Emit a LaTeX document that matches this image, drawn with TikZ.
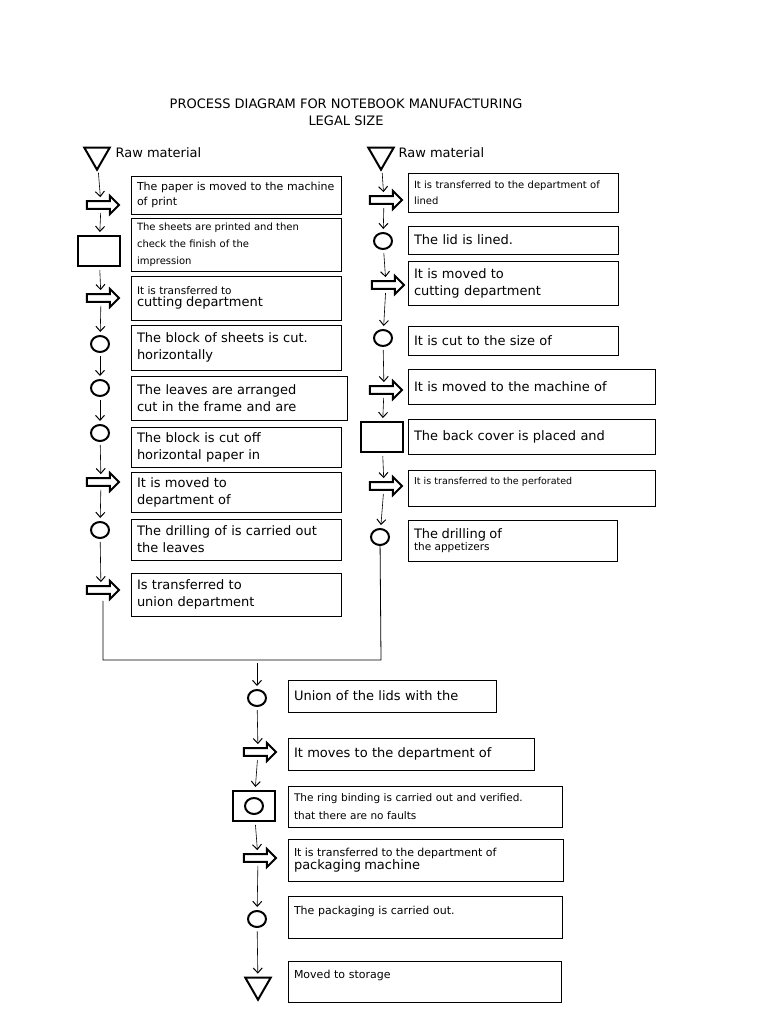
\documentclass[tikz,border=0pt]{standalone}
\usepackage{fontspec}
\setmainfont{DejaVu Sans}
\usetikzlibrary{shapes.geometric,shapes.arrows,arrows.meta}
\begin{document}
\begin{tikzpicture}[x=1pt,y=-1pt,
  box/.style={draw,line width=0.8pt,inner sep=5pt,align=left},
  big/.style={font=\fontsize{13}{17}\selectfont},
  sm/.style={font=\fontsize{10.5}{16}\selectfont},
  mv/.style={single arrow,draw,line width=2pt,minimum height=32,minimum width=18,single arrow head extend=4pt,inner sep=2pt,anchor=center},
  op/.style={ellipse,draw,line width=2pt,minimum width=18,minimum height=16,inner sep=0pt},
  ins/.style={rectangle,draw,line width=2pt,minimum width=42,minimum height=30,inner sep=0pt},
  st/.style={isosceles triangle,shape border rotate=270,isosceles triangle apex angle=60,draw,line width=2pt,minimum height=22,inner sep=0pt},
  conn/.style={line width=0.6pt,-{Straight Barb[length=5pt,width=9pt,line width=1pt]},shorten >=3pt,shorten <=3pt},
  lnk/.style={line width=0.8pt}]
\useasboundingbox (0,0) rectangle (768,1024);
\newcommand{\bx}[6]{\node[box,minimum width=#4-#2,minimum height=#5-#3,text width=#4-#2-12,#6] at ({(#2+#4)/2},{(#3+#5)/2}) (#1)}
% title
\node[font=\fontsize{13}{17}\selectfont,align=center] (title) at (346,112) {PROCESS DIAGRAM FOR NOTEBOOK MANUFACTURING\\LEGAL SIZE};
% left column
\node[st] (L0) at (97,155) {};
\node[big,anchor=west] (L0t) at (112,153) {Raw material};
\node[mv] (L1) at (101,205) {};
\bx{B1}{131}{176}{341}{214}{sm,font=\fontsize{11}{15}\selectfont}{The paper is moved to the machine of print};
\node[ins] (L2) at (99,251) {};
\bx{B2}{131}{220}{341}{270}{font=\fontsize{10}{17}\selectfont}{The sheets are printed and then\\check the finish of the\\impression};
\node[mv] (L3) at (101,298) {};
\bx{B3}{131}{276}{341}{320}{}{{\fontsize{10.5}{13}\selectfont It is transferred to}\\{\fontsize{13}{17}\selectfont cutting department}};
\node[op] (L4) at (100,344) {};
\bx{B4}{131}{325}{341}{370}{big}{The block of sheets is cut.\\horizontally};
\node[op] (L5) at (100,388) {};
\bx{B5}{131}{376}{347}{420}{big}{The leaves are arranged\\cut in the frame and are};
\node[op] (L6) at (100,433) {};
\bx{B6}{131}{427}{341}{467}{big}{The block is cut off\\horizontal paper in};
\node[mv] (L7) at (101,482) {};
\bx{B7}{131}{472}{341}{512}{big}{It is moved to\\department of};
\node[op] (L8) at (100,530) {};
\bx{B8}{131}{519}{341}{560}{big}{The drilling of is carried out\\the leaves};
\node[mv] (L9) at (101,590) {};
\bx{B9}{131}{573}{341}{616}{big}{Is transferred to\\union department};
% right column
\node[st] (R0) at (381,155) {};
\node[big,anchor=west] (R0t) at (395,153) {Raw material};
\node[mv] (R1) at (384,200) {};
\bx{C1}{408}{173}{618}{212}{font=\fontsize{10}{16}\selectfont}{It is transferred to the department of\\lined};
\node[op] (R2) at (383,241) {};
\bx{C2}{408}{226}{618}{254}{big}{The lid is lined.};
\node[mv] (R3) at (386,285) {};
\bx{C3}{408}{261}{618}{305}{big}{It is moved to\\cutting department};
\node[op] (R4) at (383,338) {};
\bx{C4}{408}{326}{618}{355}{big}{It is cut to the size of};
\node[mv] (R5) at (384,390) {};
\bx{C5}{408}{369}{655}{404}{big}{It is moved to the machine of};
\node[ins] (R6) at (382,437) {};
\bx{C6}{408}{419}{655}{454}{big}{The back cover is placed and};
\node[mv] (R7) at (384,486) {};
\bx{C7}{408}{470}{655}{506}{font=\fontsize{9.5}{12}\selectfont,text depth=14pt}{It is transferred to the perforated};
\node[op] (R8) at (380,537) {};
\bx{C8}{408}{520}{617}{561}{}{{\fontsize{13}{16}\selectfont The drilling of}\\{\fontsize{10.5}{12}\selectfont the appetizers}};
% bottom column
\coordinate (J1) at (103,660);
\coordinate (J2) at (381,660);
\coordinate (J0) at (257,660);
\node[op] (M1) at (257,698) {};
\bx{D1}{288}{680}{496}{712}{big}{Union of the lids with the};
\node[mv] (M2) at (258,752) {};
\bx{D2}{288}{738}{534}{770}{big}{It moves to the department of};
\node[ins] (M3) at (254,806) {};
\node[op] at (M3.center) (M3c) {};
\bx{D3}{288}{786}{562}{827}{font=\fontsize{10.5}{18}\selectfont}{The ring binding is carried out and verified.\\that there are no faults};
\node[mv] (M4) at (258,858) {};
\bx{D4}{288}{839}{563}{881}{}{{\fontsize{11}{13}\selectfont It is transferred to the department of}\\{\fontsize{13}{17}\selectfont packaging machine}};
\node[op] (M5) at (257,919) {};
\bx{D5}{288}{896}{562}{938}{font=\fontsize{11}{14}\selectfont,text depth=14pt}{The packaging is carried out.};
\node[st] (M6) at (258,985) {};
\bx{D6}{288}{961}{561}{1002}{font=\fontsize{11}{14}\selectfont,text depth=14pt}{Moved to storage};
% connectors
\foreach \a/\b in {L0/L1,L1/L2,L2/L3,L3/L4,L4/L5,L5/L6,L6/L7,L7/L8,L8/L9,
  R0/R1,R1/R2,R2/R3,R3/R4,R4/R5,R5/R6,R6/R7,R7/R8,
  M1/M2,M2/M3,M3/M4,M4/M5,M5/M6}
  \draw[conn] (\a) -- (\b);
\draw[conn] (J0) -- (M1);
\draw[lnk] (L9.center |- L9.south) ++(2,6) |- (J2) -- (R8);
\end{tikzpicture}
\end{document}
